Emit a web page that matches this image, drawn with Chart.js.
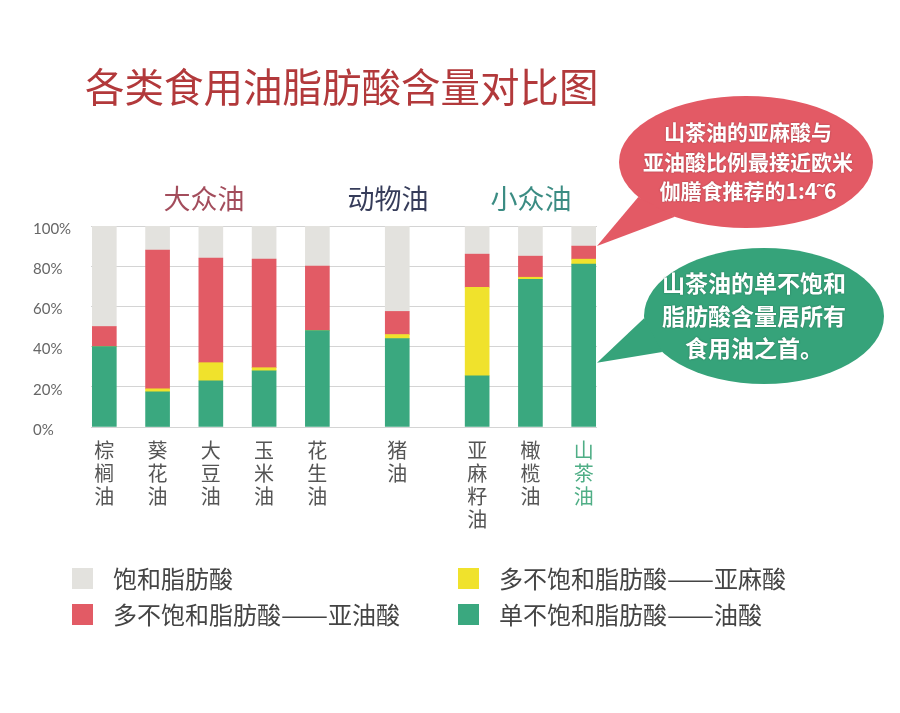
<!DOCTYPE html>
<html><head><meta charset="utf-8">
<script src="https://cdn.jsdelivr.net/npm/chart.js@4/dist/chart.umd.min.js"></script>
<style>html,body{margin:0;padding:0;background:#fff;} #wrap{width:900px;height:713px;position:relative;}</style>
</head><body><div id="wrap"><canvas id="c" width="900" height="713"></canvas></div>
<script>
// ---- data ----
const titleText = '各类食用油脂肪酸含量对比图';
const groupNames = ['大众油', '动物油', '小众油'];
const categories = ['棕榈油','','葵花油','','大豆油','','玉米油','','花生油','','','猪油','','','亚麻籽油','','橄榄油','','山茶油'];
const oleic      = [40,null,17.5,null,23,null,28,null,48,null,null,44,null,null,25.5,null,73.5,null,81];
const linolenic  = [0,null,1.5,null,9,null,1.5,null,0,null,null,2,null,null,44,null,1,null,2.5];
const linoleic   = [10,null,69,null,52,null,54,null,32,null,null,11.5,null,null,16.5,null,10.5,null,6.5];
const saturated  = [50,null,12,null,16,null,16.5,null,20,null,null,42.5,null,null,14,null,15,null,10];
const seriesNames = ['单不饱和脂肪酸——油酸','多不饱和脂肪酸——亚麻酸','多不饱和脂肪酸——亚油酸','饱和脂肪酸'];
const yTicks = [0, 20, 40, 60, 80, 100];
const calloutRed = ['山茶油的亚麻酸与', '亚油酸比例最接近欧米', '伽膳食推荐的1:4˜6'];
const calloutGreen = ['山茶油的单不饱和', '脂肪酸含量居所有', '食用油之首。'];

// ---- styles ----
const COLORS = ['#3aa87f', '#f0e22c', '#e25b65', '#e3e2de'];
const CJK = '"Noto Sans CJK SC", sans-serif';
const highlightIndex = categories.length - 1;

const overlay = {
  id: 'overlay',
  afterDatasetsDraw(chart) {
    const ctx = chart.ctx, ca = chart.chartArea, ys = chart.scales.y;
    function bubble(cx, cy, rx, ry, a1, a2, tipX, tipY, color, lines, size, lh, tx) {
      ctx.save();
      ctx.fillStyle = color;
      ctx.beginPath();
      ctx.ellipse(cx, cy, rx, ry, 0, 0, Math.PI * 2);
      ctx.fill();
      const p = a => [cx + rx * Math.cos(a * Math.PI / 180), cy + ry * Math.sin(a * Math.PI / 180)];
      const b1 = p(a1), b2 = p(a2);
      ctx.beginPath();
      ctx.moveTo(b1[0], b1[1]);
      ctx.lineTo(tipX, tipY);
      ctx.lineTo(b2[0], b2[1]);
      ctx.closePath();
      ctx.fill();
      ctx.fillStyle = '#ffffff';
      ctx.shadowColor = 'rgba(0,0,0,0.3)';
      ctx.shadowBlur = 2;
      ctx.font = 'bold ' + size + 'px ' + CJK;
      ctx.textAlign = 'center';
      ctx.textBaseline = 'middle';
      const y0 = cy - lh * (lines.length - 1) / 2;
      lines.forEach((t, i) => ctx.fillText(t, tx, y0 + i * lh));
      ctx.restore();
    }
    bubble(746, 162, 127, 66, 124, 148, ca.right, ys.getPixelForValue(90), '#e35a65', calloutRed, 21, 29.5, 748);
    bubble(764, 316, 120, 68, 148, 178, ca.right, ys.getPixelForValue(32), '#36a37a', calloutGreen, 23, 32.5, 754);
  },
  afterDraw(chart) {
    const ctx = chart.ctx;
    ctx.save();
    // title
    ctx.fillStyle = '#b2393b';
    ctx.font = '39.5px ' + CJK;
    ctx.textAlign = 'left';
    ctx.textBaseline = 'middle';
    ctx.fillText(titleText, 85, 87);
    // group labels
    const gx = [204, 388, 531], gc = ['#a34d5c', '#363c5a', '#3b8c83'];
    ctx.font = '27px ' + CJK;
    ctx.textAlign = 'center';
    groupNames.forEach((g, i) => { ctx.fillStyle = gc[i]; ctx.fillText(g, gx[i], 199); });
    // legend
    const order = [3, 2, 1, 0];
    const pos = [[72, 578], [72, 614], [458, 578], [458, 614]];
    ctx.font = '24px ' + CJK;
    ctx.textAlign = 'left';
    order.forEach((di, k) => {
      const ds = chart.data.datasets[di];
      const [x, y] = pos[k];
      ctx.fillStyle = ds.backgroundColor;
      ctx.fillRect(x, y - 10, 21, 21);
      ctx.fillStyle = '#444';
      const parts = ds.label.split('——');
      let cx = x + 41;
      ctx.fillText(parts[0], cx, y + 1);
      if (parts.length > 1) {
        cx += ctx.measureText(parts[0]).width;
        const dw = ctx.measureText('——').width;
        ctx.save();
        ctx.translate(cx, 0);
        ctx.scale(47 / dw, 1);
        ctx.fillText('——', 0, y + 1);
        ctx.restore();
        ctx.fillText(parts[1], cx + 47, y + 1);
      }
    });
    ctx.restore();
  }
};

new Chart(document.getElementById('c'), {
  type: 'bar',
  data: {
    labels: categories.map(c => c ? c.split('') : ''),
    datasets: [
      { label: seriesNames[0], data: oleic, backgroundColor: COLORS[0] },
      { label: seriesNames[1], data: linolenic, backgroundColor: COLORS[1] },
      { label: seriesNames[2], data: linoleic, backgroundColor: COLORS[2] },
      { label: seriesNames[3], data: saturated, backgroundColor: COLORS[3] }
    ]
  },
  options: {
    responsive: false,
    animation: false,
    events: [],
    layout: { padding: { top: 226, left: 33, right: 303, bottom: 176 } },
    datasets: { bar: { barThickness: 24, borderWidth: 0 } },
    plugins: { legend: { display: false }, tooltip: { enabled: false }, title: { display: false } },
    scales: {
      x: {
        stacked: true,
        grid: { display: false, drawTicks: false },
        border: { display: false },
        ticks: {
          autoSkip: false, maxRotation: 0, minRotation: 0, padding: 12,
          font: { family: CJK, size: 20, lineHeight: 1.15 },
          color: c => c.index === highlightIndex ? '#4fae86' : '#555'
        },
        afterFit: s => { s.height = 110; s.paddingLeft = 0; s.paddingRight = 0; }
      },
      y: {
        stacked: true,
        min: 0, max: 100,
        afterBuildTicks: s => { s.ticks = yTicks.map(v => ({ value: v })); },
        grid: { color: '#d4d4d4', drawTicks: false, lineWidth: 1 },
        border: { display: false },
        ticks: {
          crossAlign: 'far', padding: 0, labelOffset: 3,
          font: { family: 'Lato, sans-serif', size: 15 },
          color: '#666',
          callback: v => v + '%'
        },
        afterFit: s => { s.width = 58; s.paddingTop = 0; s.paddingBottom = 0; }
      }
    }
  },
  plugins: [overlay]
});
</script>
</body></html>
